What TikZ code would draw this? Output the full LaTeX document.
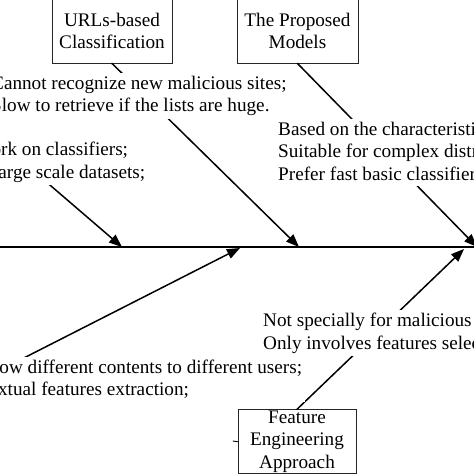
\documentclass[tikz,border=0pt]{standalone}
\usepackage{fontspec}
\setmainfont{Liberation Serif}
\usetikzlibrary{arrows.meta}
\usetikzlibrary{calc}

\begin{document}
\begin{tikzpicture}[x=1pt, y=-1pt, line cap=round,
    font=\fontsize{19.2}{22.5}\selectfont,
    cause/.style={draw=black!85, line width=0.9pt, align=center, inner sep=0pt,
        minimum width=120pt, minimum height=64pt},
    bone/.style={line width=1.5pt},
    tip/.style={-{Triangle[length=13pt, width=10pt]}},
    note/.style={fill=white, align=left, inner sep=3pt, anchor=west}]
    % 피쉬본 다이어그램 (잘린 부분)
    \useasboundingbox (0,0) rectangle (474,474);
    \clip (0,0) rectangle (474,474);

    \node[cause] (urls) at (112,31) {URLs-based\\Classification};
    \node[cause, minimum width=121pt] (models) at (297.5,31) {The Proposed\\Models};
    \node[cause, minimum width=118pt] (feat) at (297,441.75) {Feature\\Engineering\\Approach};

    \coordinate (spineL) at (-10,247);
    \coordinate (spineR) at (490,247);
    \coordinate (H1) at (122,247);
    \coordinate (H2) at (299,247);
    \coordinate (H3) at (477,247);
    \coordinate (H4) at (240,248);
    \coordinate (H5) at (464,249);
    \coordinate (mlbox) at (-92,63);
    \coordinate (lowbox) at (-100,421);
    \coordinate (stub) at (233,441);

    \draw[bone] (spineL) -- (spineR);
    \draw[bone, tip] (urls.south) -- (H2);
    \draw[bone, tip] (models.south) -- (H3);
    \draw[bone, tip] (mlbox) -- (H1);
    \draw[bone, tip] (lowbox) -- (H4);
    \draw[bone, tip] (feat.north) -- (H5);
    \draw[line width=0.9pt] (feat.west) -- (stub);

    \node[note] (urlsnote) at (-12,95.85) {Cannot recognize new malicious sites;\\Slow to retrieve if the lists are huge.};
    \node[note] (modelsnote) at (275,152.6) {Based on the characteristics of webpages;\\Suitable for complex distributions;\\Prefer fast basic classifiers;};
    \node[note] (mlnote) at (-68.7,162.35) {Only work on classifiers;\\Need a large scale datasets;};
    \node[note] (featnote) at (260,333.35) {Not specially for malicious webpages;\\Only involves features selection;};
    \node[note] (lownote) at (-24,379.35) {Show different contents to different users;\\Textual features extraction;};
\end{tikzpicture}
\end{document}
